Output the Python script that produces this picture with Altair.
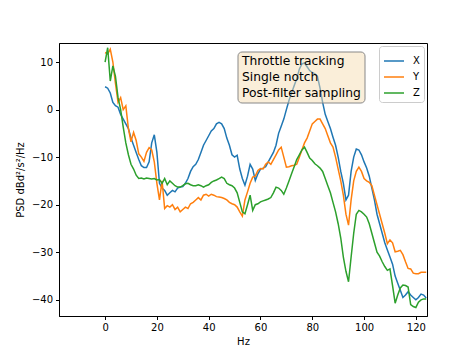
import altair as alt
import pandas as pd

freq = list(range(0, 125))

x_vals = [4.8, 4.5, 3.5, 1.5, 0.8, 0.5, -1.0, -2.0, -3.0, -4.0,
          -6.0, -7.5, -9.0, -10.5, -11.8, -12.2, -12.2, -11.0, -7.0, -5.3,
          -9.0, -15.5, -16.5, -17.0, -18.0, -17.5, -17.0, -17.3, -16.5, -16.3,
          -16.2, -15.5, -14.5, -13.0, -12.0, -11.5, -10.5, -9.0, -7.5, -6.5,
          -5.5, -4.5, -4.0, -3.0, -2.7, -3.0, -4.0, -6.0, -7.5, -9.5,
          -10.0, -9.6, -12.5, -14.5, -15.9, -14.0, -11.5, -12.5, -14.9, -13.5,
          -12.5, -12.3, -12.0, -11.0, -10.0, -9.0, -7.5, -5.0, -3.5, -2.0,
          0.0, 1.9, 3.5, 5.0, 6.5, 8.5, 9.6, 9.8, 9.0, 8.2,
          7.8, 7.5, 7.0, 4.5, 1.5, -1.0, -2.5, -4.0, -5.8, -7.5,
          -10.0, -13.0, -15.5, -19.0, -18.0, -13.0, -10.0, -8.3, -8.5, -9.5,
          -11.0, -12.3, -14.0, -16.5, -19.0, -22.0, -24.0, -26.0, -28.0, -29.5,
          -31.0, -32.5, -35.0, -36.5, -38.0, -39.5, -39.0, -38.3, -39.0, -39.5,
          -40.0, -39.5, -38.8, -39.0, -39.6]

y_vals = [12.0, 11.7, 12.7, 10.0, 5.5, 1.5, 2.5, 0.0, 0.8, -4.0,
          -6.8, -4.8, -6.5, -9.3, -10.0, -10.9, -9.0, -8.0, -8.5, -11.0,
          -15.5, -19.0, -15.0, -20.8, -20.2, -20.5, -20.0, -21.0, -20.5, -21.5,
          -21.0, -20.5, -20.8, -19.8, -19.5, -19.0, -18.5, -19.0, -18.0, -17.8,
          -18.2, -17.8, -18.0, -18.3, -18.4, -18.5, -18.7, -19.0, -19.5, -19.8,
          -20.0, -20.5, -21.5, -22.4, -19.0, -17.3, -15.5, -14.2, -14.0, -12.8,
          -12.4, -12.5, -11.5, -11.0, -11.5, -10.5, -9.5, -8.5, -7.9, -10.0,
          -12.1, -12.0, -11.8, -11.7, -11.5, -10.0, -8.5, -7.0, -6.0, -4.5,
          -3.0, -2.5, -2.0, -2.0, -3.0, -4.0, -5.5, -7.0, -7.9, -10.0,
          -12.5, -15.0, -18.0, -22.0, -24.3, -19.0, -15.0, -13.0, -12.1, -13.0,
          -14.5, -15.0, -15.3, -16.0, -18.0, -20.0, -22.0, -24.0, -26.0, -28.2,
          -27.4, -28.0, -29.9, -29.8, -29.6, -30.5, -32.0, -33.4, -33.5, -34.4,
          -34.5, -34.5, -34.2, -34.2, -34.2]

z_vals = [10.0, 13.0, 6.0, 9.2, 7.0, 2.5, 0.0, -3.7, -7.0, -9.5,
          -11.5, -12.5, -13.8, -14.5, -14.4, -14.6, -14.4, -14.5, -14.6, -14.5,
          -14.8, -14.7, -15.5, -14.5, -15.8, -15.0, -15.5, -16.0, -16.3, -16.3,
          -16.0, -15.6, -15.5, -15.8, -16.0, -16.0, -15.8, -16.0, -16.3, -16.0,
          -15.8, -15.3, -15.0, -14.8, -14.5, -14.2, -14.5, -15.5, -15.8, -16.0,
          -16.5, -17.5, -19.5, -21.5, -21.9, -20.0, -18.0, -21.2, -20.0, -19.8,
          -19.4, -19.2, -19.0, -18.8, -18.5, -17.5, -16.3, -16.5, -17.0, -17.8,
          -16.5, -15.0, -13.5, -12.0, -10.5, -9.5, -8.5, -7.9, -9.0, -10.2,
          -10.7, -11.4, -11.8, -12.3, -13.0, -14.5, -16.0, -17.5, -19.5, -21.5,
          -24.0, -27.0, -31.0, -34.0, -36.2, -31.0, -26.0, -22.0, -21.2, -21.5,
          -22.0, -22.6, -24.0, -26.0, -28.0, -30.0, -30.8, -32.0, -33.0, -33.8,
          -33.5, -37.0, -40.7, -39.0, -37.5, -36.9, -37.0, -37.3, -41.0, -41.4,
          -41.6, -40.5, -40.0, -39.8, -39.8]

series_names = ["X", "Y", "Z"]
series_colors = ["#1f77b4", "#ff7f0e", "#2ca02c"]
x_ticks = [0, 20, 40, 60, 80, 100, 120]
y_ticks = [-40, -30, -20, -10, 0, 10]
box_lines = ["Throttle tracking", "Single notch", "Post-filter sampling"]

rows = []
for name, vals in zip(series_names, [x_vals, y_vals, z_vals]):
    for f, v in zip(freq, vals):
        rows.append({"Hz": f, "PSD": v, "axis": name})
df = pd.DataFrame(rows)

lines = alt.Chart(df).mark_line(strokeWidth=1.5, clip=True).encode(
    x=alt.X("Hz:Q", scale=alt.Scale(domain=[-17.8, 124.3], nice=False, zero=False),
            axis=alt.Axis(values=x_ticks, title="Hz", grid=False, format="d")),
    y=alt.Y("PSD:Q", scale=alt.Scale(domain=[-43.4, 14.0], nice=False, zero=False),
            axis=alt.Axis(values=y_ticks, title="PSD dBd²/s²/Hz", grid=False, format="d")),
    color=alt.Color("axis:N", scale=alt.Scale(domain=series_names, range=series_colors),
                    legend=alt.Legend(title=None, orient="top-right", offset=3,
                                      symbolType="stroke", symbolSize=400,
                                      symbolStrokeWidth=1.5, labelFontSize=10,
                                      labelFont="DejaVu Sans", labelColor="#000",
                                      rowPadding=-4, labelOffset=8,
                                      fillColor="white", strokeColor="#cccccc",
                                      cornerRadius=3, padding=4)),
)

box_df = pd.DataFrame({"label": ["\n".join(box_lines)]})
box = alt.Chart(box_df).mark_rect(fill="#f5deb3", fillOpacity=0.5, stroke="#888888",
                                  strokeWidth=1, cornerRadius=4).encode(
    x=alt.value(179), x2=alt.value(306), y=alt.value(9), y2=alt.value(60)
)
text = alt.Chart(box_df).mark_text(align="left", baseline="top", lineBreak="\n",
                                   fontSize=12.3, lineHeight=16, font="DejaVu Sans",
                                   color="#000").encode(
    x=alt.value(183), y=alt.value(12), text="label:N"
)

chart = alt.layer(lines, box, text).properties(
    width=368, height=273,
    autosize=alt.AutoSizeParams(type="none"),
    padding={"left": 51, "top": 35, "right": 39, "bottom": 31},
).configure_view(stroke="#000", strokeWidth=1).configure_axis(
    domainColor="#000", tickColor="#000", labelColor="#000", titleColor="#000",
    labelFont="DejaVu Sans", titleFont="DejaVu Sans", labelFontSize=10,
    titleFontSize=10, titleFontWeight="normal", tickSize=3.5, labelPadding=3,
    domainWidth=1,
).configure_axisX(titlePadding=4).configure_axisY(titlePadding=6)

chart.save("out.html", embed_options={"renderer": "svg", "actions": False})
